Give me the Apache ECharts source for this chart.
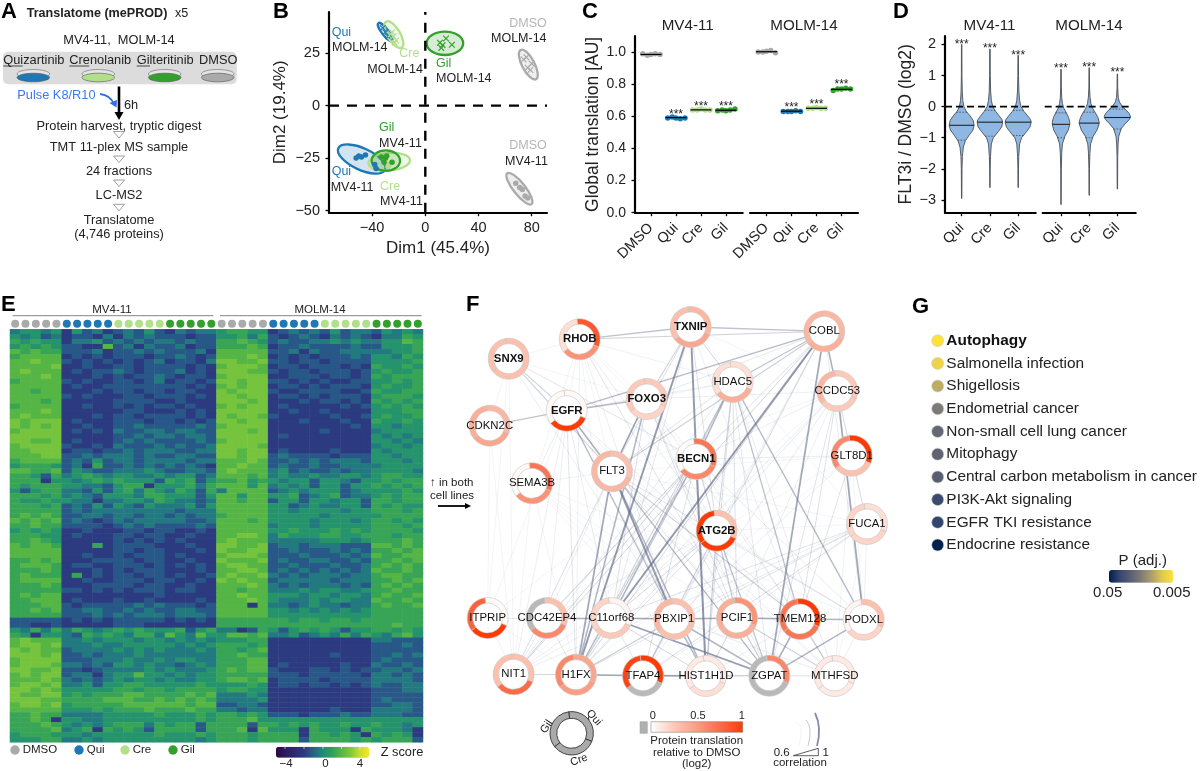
<!DOCTYPE html>
<html><head><meta charset="utf-8">
<style>html,body{margin:0;padding:0;background:#fff}#c{width:1200px;height:771px}</style>
<script src="https://cdn.jsdelivr.net/npm/echarts@6/dist/echarts.min.js"></script>
</head><body><div id="c"></div>
<script>
const FONT='"Liberation Sans",Arial,sans-serif';
const COL={DMSO:'#aaaaaa',Qui:'#1f78b4',Cre:'#b2df8a',Gil:'#33a02c'};
const MINUS=s=>String(s).replace('-','\u2212');

// ---------- B: PCA ----------
const pcaPoints=[
 {g:'Qui',sym:'x',pts:[[-30,35],[-32,37],[-28,33]]},
 {g:'Cre',sym:'x',pts:[[-24,33],[-22,31],[-25,35],[-23,30],[-26,34]]},
 {g:'Gil',sym:'x',pts:[[11,30],[15.6,32],[20,29],[12,27.5],[13,28.8]]},
 {g:'DMSO',sym:'x',pts:[[74,22],[77,18],[79,17],[76,23],[80,20]]},
 {g:'DMSO',sym:'o',pts:[[68,-37],[71,-39],[75,-43],[73,-40],[77,-44]]},
 {g:'Qui',sym:'o',pts:[[-52,-25],[-50,-24],[-48,-24.5],[-45,-23.5],[-38,-28],[-37,-30]]},
 {g:'Cre',sym:'o',pts:[[-27,-28],[-25,-27],[-30,-26],[-28,-29]]},
 {g:'Gil',sym:'o',pts:[[-33,-24.5],[-30,-25],[-25,-27],[-31,-27],[-29,-24]]}
];
// group, major-axis ends (x1,y1,x2,y2) and minor/major ratio
const pcaEllipses=[
 ['Qui',-35.3,39.3,-25.2,31,.3],
 ['Cre',-29.5,40,-17.8,27.6,.42],
 ['Gil',1,29.7,28.5,29.7,.64],
 ['DMSO',71.7,26.5,83.2,12.6,.38],
 ['DMSO',61.6,-32.2,79.9,-46.9,.3],
 ['Qui',-65.4,-20.3,-30.3,-30.6,.42],
 ['Cre',-42.8,-27.5,-11.5,-25.9,.42],
 ['Gil',-40.3,-26.2,-19,-26.2,.72]
];
const pcaXTicks=[-40,0,40,80], pcaYTicks=[-50,-25,0,25];

// ---------- C: global translation ----------
const transCats=['DMSO','Qui','Cre','Gil'];
const transMV4=[[.99,.98,.985,.99,.985],[.59,.595,.59,.585,.59],[.64,.64,.645,.64,.64],[.635,.64,.635,.64,.645]];
const transMOLM=[[1,1,1.005,1.01,.995],[.63,.63,.63,.635,.63],[.65,.65,.655,.65,.65],[.76,.77,.77,.775,.77]];
const transMedMV4=[.985,.592,.64,.638], transMedMOLM=[1.002,.632,.65,.768];
const transStarsMV4=[null,.625,.672,.672], transStarsMOLM=[null,.666,.685,.81];
const transJitter=[-.33,-.15,0,.17,.36];

// ---------- D: violins (y, half-width) ----------
const vMV4Qui=[[2,.008],[1,.01],[.5,.02],[.2,.04],[0,.08],[-.15,.16],[-.3,.3],[-.45,.41],[-.6,.44],[-.75,.4],[-.9,.28],[-1.1,.13],[-1.3,.06],[-1.6,.025],[-2,.012],[-2.95,.006]];
const vMV4Cre=[[1.85,.008],[1,.012],[.5,.025],[.2,.05],[0,.1],[-.15,.2],[-.3,.33],[-.42,.43],[-.5,.45],[-.65,.42],[-.8,.3],[-1,.12],[-1.2,.05],[-1.6,.02],[-2,.01],[-2.6,.006]];
const vMV4Gil=[[1.65,.008],[1,.012],[.5,.025],[.2,.05],[0,.1],[-.15,.2],[-.3,.34],[-.42,.44],[-.5,.46],[-.65,.42],[-.8,.3],[-1,.12],[-1.2,.05],[-1.6,.02],[-2,.01],[-2.6,.006]];
const vMOLMQui=[[1.2,.008],[.6,.012],[.3,.025],[.1,.05],[-.05,.1],[-.2,.19],[-.35,.27],[-.5,.31],[-.57,.31],[-.75,.26],[-.95,.14],[-1.2,.05],[-1.5,.025],[-2,.01],[-3.15,.006]];
const vMOLMCre=[[1.25,.008],[.6,.012],[.3,.03],[.1,.06],[-.05,.12],[-.2,.22],[-.35,.31],[-.5,.355],[-.55,.355],[-.75,.28],[-.95,.14],[-1.2,.05],[-1.5,.025],[-2,.01],[-2.85,.006]];
const vMOLMGil=[[1.05,.008],[.6,.012],[.3,.03],[.15,.07],[0,.18],[-.1,.3],[-.22,.42],[-.33,.47],[-.42,.42],[-.55,.28],[-.7,.14],[-.95,.05],[-1.2,.025],[-1.6,.012],[-2.65,.006]];
const vCats=['Qui','Cre','Gil'];
// median, upper, lower dotted line
const vStatsMV4=[[-.6,-.18,-1.08],[-.5,-.12,-.95],[-.5,-.12,-.93]];
const vStatsMOLM=[[-.57,-.2,-1],[-.53,-.18,-1],[-.35,-.08,-.72]];
const vStarsMV4=[2.05,1.93,1.7], vStarsMOLM=[1.27,1.32,1.14];

// ---------- E: heatmap, one row per band, level digits ----------
const heatRows=[
"45545 25342 34353 24344 56655 23434 35344 35454",
"54534 23324 24343 33233 55646 32343 24343 24465",
"65655 24453 43434 43433 66765 34334 45454 45576",
"56565 33227 34243 34233 66676 23343 33343 35556",
"76766 33342 33434 33342 77777 33424 33444 44556",
"67777 23232 33323 34323 77787 23232 33343 55465",
"77877 32323 23234 23324 88778 33233 23333 55556",
"77778 22322 33233 33232 78887 23323 33232 65565",
"78777 23233 43233 34232 88877 32332 33323 56556",
"77787 22232 32334 32332 78888 22333 23323 65666",
"67777 32322 33234 23323 88788 33232 32233 55656",
"77777 23223 33333 33232 78788 23323 23332 56556",
"77677 22232 33233 23322 87888 32233 33223 65566",
"77777 32322 23323 33232 88788 23323 23332 56665",
"77767 22222 33332 23222 88878 22232 33232 65656",
"67777 22322 32323 32322 78788 23222 22323 56565",
"77787 22222 23322 23232 88888 22322 32222 55566",
"78777 22232 33233 33232 87887 32222 23223 56556",
"87888 23222 33323 32323 88788 22232 22322 65565",
"87878 22322 33433 33343 78888 22222 22232 55455",
"78888 23232 43344 34433 88878 22222 32222 45555",
"88888 22222 33434 43443 88888 23222 22222 54545",
"88778 23222 34343 33343 78888 22222 22222 55454",
"78888 32232 43334 34334 88887 22222 22222 45545",
"77888 23323 34344 43344 88788 23222 23222 54555",
"77788 33434 44343 34433 88788 34333 32333 55455",
"67777 34353 44344 44344 77787 33434 34443 55545",
"56665 34263 34343 43432 77877 34334 33444 45555",
"77667 35433 44454 33443 78777 45343 34344 55554",
"66536 45654 55445 45534 77767 45445 44554 56655",
"66625 54565 65553 65635 66756 54553 55435 56566",
"65666 55443 56625 55646 77757 45453 55355 65656",
"53566 44353 56465 46536 47777 34545 55345 55565",
"66656 45435 55466 55535 77577 55634 56344 56566",
"65565 54424 45546 54434 77677 35535 54553 66566",
"66656 34353 54354 44535 77777 55345 44553 65655",
"66666 34344 44444 43444 77777 55455 55455 66656",
"67676 33443 44344 34344 67777 55555 45555 56666",
"76767 34323 43444 44334 77767 55554 55545 66565",
"66766 33332 34343 33343 77777 45554 55555 66656",
"56565 22322 23323 32232 77777 55655 56565 66665",
"66655 23222 33233 22322 77887 46555 66556 66566",
"66765 22222 32323 23222 78777 44444 55545 66676",
"76776 22262 33332 22322 88778 34434 44333 77676",
"77777 22222 33233 22232 87788 33433 34343 66767",
"77777 22322 32333 23222 78887 33343 33434 76677",
"66767 22233 33233 22322 87778 34334 43343 66767",
"67776 23322 33323 23232 78877 33433 34334 67676",
"66676 22232 32333 22232 77887 34343 43434 76676",
"67666 26232 33233 23223 78778 43434 44344 67766",
"67777 22322 33323 32232 87877 34444 43444 66767",
"66676 22233 33233 22322 77787 43434 44343 67676",
"66666 33232 32333 23322 77677 44454 55445 66766",
"67677 22222 22223 22222 77877 55545 54554 67667",
"66777 23222 32232 22232 77787 54445 45544 76676",
"66677 32333 33434 33323 77727 44345 44344 67667",
"66767 33443 34343 34433 77777 55454 54545 66666",
"66666 33343 43444 34443 77777 55555 55555 66666",
"33333 23232 33333 23232 66666 66566 56656 66666",
"33223 22222 33322 22222 66666 66666 66666 66766",
"54646 46545 65655 56356 44236 53565 65355 66565",
"65255 43656 54664 75475 57767 44534 54646 54675",
"78777 44545 55455 45454 55566 22222 22222 44333",
"78878 44454 45555 54545 66656 22222 22222 33343",
"87877 34444 54545 44454 66567 22222 22222 33333",
"88878 33434 44544 44444 66766 22222 23222 33434",
"78888 33344 45445 45544 66677 22222 22222 34333",
"78887 44343 55454 43454 66677 23222 22322 43343",
"88778 33234 44454 54445 67677 32223 32323 34434",
"78788 34424 55755 45455 66666 33323 33332 44343",
"77787 43434 54554 54455 67767 23333 23333 44443",
"78878 44535 56655 55565 55565 23323 32323 43344",
"88787 55555 66566 56666 56655 22222 22222 33344",
"87788 56566 67766 66767 44454 22222 22222 33333",
"88877 66667 77667 67676 44445 22222 22222 34333",
"78878 56666 67777 77677 33443 22222 22222 33443",
"77777 55565 66676 66766 44344 22222 23222 44443",
"66766 44445 55556 55565 66565 33323 33433 44433",
"66762 55445 55555 55565 66675 55555 55555 55555",
"66676 54545 66646 56636 66636 65656 55655 65545",
"66667 45626 56536 66636 66727 55526 55526 55542",
"56665 55455 55556 55565 66656 66626 65652 65652",
"55566 44545 55555 55545 66656 66636 66656 56663"
];
const heatLevelZ=[-4,-3.2,-2,-1.2,-.4,.4,1.2,2,2.8,3.6];
const heatPalette=['#2a0845','#2e1a5e','#2c2a72','#2c3a80','#27608a','#1f8a78','#2fa05a','#55b545','#7ec83b','#c8dc2c','#fbe71e'];
const heatGroups=['DMSO','Qui','Cre','Gil','DMSO','Qui','Cre','Gil'];

// ---------- F: network ----------
const netNodes=[ // name, layout x, layout y, Qui, Cre, Gil, bold
 ['SNX9',78.7,68.7,.3,.3,.3,1],['RHOB',149.7,49.3,.85,.55,.15,1],['TXNIP',260.7,37,.35,.45,.3,1],
 ['COBL',394.3,41.3,.35,.4,.35,0],['HDAC5',302.7,92,.15,.4,.15,0],['CCDC53',407.3,101,.25,.25,.35,0],
 ['FOXO3',216.7,109,.25,.2,.25,1],['EGFR',136.7,120.7,.03,1,.03,1],['CDKN2C',59.7,135.7,.35,.45,.4,0],
 ['BECN1',266.3,169,.7,.6,.02,1],['GLT8D1',421.7,165.7,1,.3,.6,0],['FLT3',182,181.3,.3,.35,.35,0],
 ['SEMA3B',102,193.3,.7,.55,.03,0],['ATG2B',286.7,240.7,.3,1,1,1],['FUCA1',437,234,.15,.2,.2,0],
 ['ITPRIP',57.7,328,.02,1,.8,0],['CDC42EP4',117,328,.3,.6,null,0],['C11orf68',181.3,328,.05,.25,.2,0],
 ['PBXIP1',244.3,329,.3,.3,.35,0],['PCIF1',307,328,.55,.4,.4,0],['TMEM128',370,329,1,.7,.7,0],
 ['PODXL',433.7,329.7,.3,.2,.05,0],['NIT1',83.7,384.3,.3,.75,.3,0],['H1FX',146,384.7,.45,.5,.6,0],
 ['TFAP4',213,385.7,1,null,.95,0],['HIST1H1D',276,386,.1,.15,.1,0],['ZGPAT',339.3,385.7,.6,null,null,0],
 ['MTHFSD',404.7,386,.1,.1,.1,0]
];
const netEdges=[
 ['TXNIP','BECN1',.9],['TXNIP','H1FX',.9],['FOXO3','H1FX',.8],['COBL','C11orf68',.9],['COBL','ZGPAT',.85],['CCDC53','PODXL',.85],
 ['FLT3','PBXIP1',.9],['FLT3','H1FX',.85],['BECN1','HIST1H1D',.92],['BECN1','ATG2B',.7],['EGFR','FLT3',.8],['EGFR','PBXIP1',.75],
 ['EGFR','PCIF1',.6],['SNX9','FLT3',.7],['SNX9','EGFR',.7],['SNX9','BECN1',.65],['RHOB','FLT3',.6],['RHOB','EGFR',.6],['RHOB','BECN1',.6],
 ['RHOB','TXNIP',.75],['RHOB','COBL',.7],['TXNIP','COBL',.75],['EGFR','FOXO3',.78],['EGFR','COBL',.78],['CDKN2C','EGFR',.75],['EGFR','HDAC5',.62],
 ['FOXO3','FLT3',.85],['FOXO3','TXNIP',.7],['TXNIP','HDAC5',.68],['HDAC5','BECN1',.8],['COBL','HDAC5',.75],['HDAC5','C11orf68',.7],['HDAC5','FLT3',.65],
 ['HDAC5','TMEM128',.75],['HDAC5','PODXL',.78],['CCDC53','FOXO3',.62],['GLT8D1','BECN1',.62],['GLT8D1','PODXL',.6],['FUCA1','PODXL',.62],
 ['FUCA1','C11orf68',.65],['FUCA1','H1FX',.65],['FUCA1','TFAP4',.66],['COBL','FLT3',.7],['COBL','NIT1',.68],['HDAC5','H1FX',.7],['BECN1','CDC42EP4',.7],
 ['BECN1','C11orf68',.75],['BECN1','H1FX',.72],['BECN1','NIT1',.68],['ATG2B','H1FX',.66],['ATG2B','C11orf68',.68],['ATG2B','PCIF1',.72],['ATG2B','ZGPAT',.75],
 ['ATG2B','TFAP4',.7],['ATG2B','NIT1',.62],['EGFR','CDC42EP4',.62],['EGFR','ITPRIP',.6],['SEMA3B','NIT1',.6],['SEMA3B','FLT3',.61],['SEMA3B','PBXIP1',.6],
 ['SEMA3B','EGFR',.62],['C11orf68','ZGPAT',.88],['PBXIP1','ZGPAT',.8],['PBXIP1','HIST1H1D',.78],['FLT3','HIST1H1D',.8],['FLT3','ZGPAT',.75],['FLT3','TMEM128',.7],
 ['FLT3','PODXL',.65],['TMEM128','ZGPAT',.82],['PODXL','ZGPAT',.8],['TMEM128','MTHFSD',.72],['PCIF1','MTHFSD',.7],['PODXL','MTHFSD',.62],['PCIF1','ZGPAT',.7],
 ['PCIF1','HIST1H1D',.68],['CDC42EP4','C11orf68',.78],['C11orf68','PBXIP1',.8],['PBXIP1','PCIF1',.8],['PCIF1','TMEM128',.85],['TMEM128','PODXL',.8],
 ['ITPRIP','CDC42EP4',.6],['NIT1','H1FX',.66],['H1FX','TFAP4',.8],['TFAP4','HIST1H1D',.85],['HIST1H1D','ZGPAT',.72],['ZGPAT','MTHFSD',.66],['H1FX','PBXIP1',.72],
 ['H1FX','C11orf68',.72],['H1FX','CDC42EP4',.65],['NIT1','C11orf68',.62],['NIT1','CDC42EP4',.63],['ITPRIP','NIT1',.61],['TFAP4','C11orf68',.65],['TFAP4','PBXIP1',.65],
 ['COBL','FUCA1',.6],['COBL','PODXL',.63],['GLT8D1','TMEM128',.65],['CCDC53','TMEM128',.66],['CCDC53','ZGPAT',.65],['CCDC53','NIT1',.6],['CCDC53','H1FX',.64],
 ['CCDC53','TFAP4',.63],['TXNIP','ATG2B',.66],['FOXO3','BECN1',.62],['FOXO3','PCIF1',.66],['FOXO3','ATG2B',.62],['SNX9','PBXIP1',.62],['SNX9','ITPRIP',.6],
 ['CDKN2C','ITPRIP',.6],['CDKN2C','NIT1',.6],['SNX9','NIT1',.6],['EGFR','TMEM128',.63],['EGFR','HIST1H1D',.65],['EGFR','H1FX',.65],['EGFR','ZGPAT',.64],
 ['RHOB','C11orf68',.6],['RHOB','PCIF1',.62],['GLT8D1','FLT3',.6],['FUCA1','FLT3',.6],['SEMA3B','PODXL',.6],['COBL','CCDC53',.8],['GLT8D1','FUCA1',.6],
 ['CCDC53','FUCA1',.62],['GLT8D1','COBL',.6],['FOXO3','RHOB',.6],['FOXO3','HDAC5',.6],
 ['SNX9','RHOB',.6],['SNX9','FOXO3',.6],['SNX9','CDKN2C',.6],['RHOB','HDAC5',.61],['RHOB','SEMA3B',.6],['RHOB','ATG2B',.63],['RHOB','PBXIP1',.62],['RHOB','H1FX',.61],
 ['RHOB','ZGPAT',.6],['TXNIP','FLT3',.66],['TXNIP','C11orf68',.64],['TXNIP','TMEM128',.62],['TXNIP','FUCA1',.6],['TXNIP','CCDC53',.6],['COBL','FOXO3',.64],['COBL','BECN1',.66],
 ['COBL','ATG2B',.62],['COBL','TFAP4',.64],['COBL','H1FX',.68],['COBL','PBXIP1',.63],['HDAC5','ATG2B',.68],['HDAC5','NIT1',.63],['HDAC5','ZGPAT',.64],['HDAC5','HIST1H1D',.66],
 ['HDAC5','MTHFSD',.63],['HDAC5','PCIF1',.66],['CCDC53','BECN1',.62],['CCDC53','FLT3',.6],['CCDC53','PCIF1',.62],['CCDC53','C11orf68',.63],['GLT8D1','ATG2B',.6],['GLT8D1','PBXIP1',.62],
 ['GLT8D1','H1FX',.6],['GLT8D1','MTHFSD',.61],['FUCA1','PBXIP1',.63],['FUCA1','ATG2B',.6],['FUCA1','NIT1',.62],['FUCA1','MTHFSD',.6],['FUCA1','PCIF1',.62],['BECN1','PODXL',.63],
 ['BECN1','MTHFSD',.62],['BECN1','TFAP4',.66],['BECN1','ITPRIP',.6],['ATG2B','PODXL',.62],['ATG2B','CDC42EP4',.62],['ATG2B','HIST1H1D',.72],['FLT3','CDC42EP4',.62],['FLT3','PCIF1',.66],
 ['FLT3','NIT1',.62],['FLT3','MTHFSD',.62],['SEMA3B','HIST1H1D',.6],['SEMA3B','PCIF1',.6],['SEMA3B','H1FX',.6],['SEMA3B','ZGPAT',.6],['EGFR','C11orf68',.63],['EGFR','NIT1',.62],
 ['EGFR','MTHFSD',.62],['FOXO3','NIT1',.62],['FOXO3','C11orf68',.66],['FOXO3','TMEM128',.63],['FOXO3','ZGPAT',.63],['ITPRIP','H1FX',.6],['CDC42EP4','PBXIP1',.63],['C11orf68','ITPRIP',.6],
 ['C11orf68','PCIF1',.64],['C11orf68','HIST1H1D',.68],['TFAP4','PCIF1',.62],['HIST1H1D','TMEM128',.62],['PBXIP1','MTHFSD',.63],['H1FX','ZGPAT',.62],['H1FX','HIST1H1D',.63],['NIT1','TFAP4',.6]
];
const ringStops=['#ffffff','#fdc9b8','#fb9d83','#f96c48','#ff3a05'];

// ---------- G: enrichment ----------
const pathways=['Autophagy','Salmonella infection','Shigellosis','Endometrial cancer','Non-small cell lung cancer','Mitophagy','Central carbon metabolism in cancer','PI3K-Akt signaling','EGFR TKI resistance','Endocrine resistance'];
const pathwayScore=[2.3,2.2,2.02,1.8,1.68,1.66,1.63,1.5,1.46,1.3]; // -log10 P (adj.)
const pathwayPalette=['#00204d','#35456f','#5a5f72','#7c7b78','#ad9f6c','#e0c94e','#ffe13c'];

// ---------- helpers ----------
const series=[], gfx=[];
function T(text,x,y,o={}){gfx.push({type:'text',x,y,rotation:o.rot||0,z:100,silent:true,style:{text,fill:o.color||'#222',
  fontFamily:FONT,fontSize:o.size||12.8,fontWeight:o.bold?'bold':'normal',align:o.align||'left',verticalAlign:'middle'}});}
function axisBase(o){return Object.assign({splitLine:{show:false},scale:false},o);}
const LINE={show:true,onZero:false,lineStyle:{color:'#000',width:2.2}};
const TICK=(vals,len=3.5)=>({show:true,length:len,lineStyle:{color:'#000',width:1.3},customValues:vals});
const LAB=(vals,fmt,extra={})=>Object.assign({show:true,customValues:vals,color:'#222',fontFamily:FONT,fontSize:14.5,margin:8,formatter:fmt,hideOverlap:false},extra);

const grids=[
 {left:329,top:12,width:218,height:200.7},      //0 B
 {left:635,top:36,width:107.7,height:176.7},    //1 C
 {left:750,top:36,width:108,height:176.7},      //2 C
 {left:945,top:36,width:90.7,height:176.7},     //3 D
 {left:1042.7,top:36,width:93,height:176.7},    //4 D
 {left:10,top:329.3,width:413,height:413},      //5 E
 {left:10,top:318.7,width:413,height:10},       //6 E dots
 {left:430,top:290,width:480,height:480},       //7 F
 {left:930,top:329.35,width:18,height:227}      //8 G
];
const xAxes=[],yAxes=[];
// B
xAxes.push(axisBase({type:'value',gridIndex:0,min:-72.4,max:91.5,axisLine:LINE,axisTick:TICK(pcaXTicks),axisLabel:LAB(pcaXTicks,MINUS),
 name:'Dim1 (45.4%)',nameLocation:'middle',nameGap:27,nameTextStyle:{fontFamily:FONT,fontSize:17,color:'#222'}}));
yAxes.push(axisBase({type:'value',gridIndex:0,min:-51,max:44.6,axisLine:LINE,axisTick:TICK(pcaYTicks),axisLabel:LAB(pcaYTicks,MINUS,{margin:9}),
 name:'Dim2 (19.4%)',nameLocation:'middle',nameGap:40,nameTextStyle:{fontFamily:FONT,fontSize:17,color:'#222'}}));
// C
const catFmt=list=>v=>list[Math.round(v)-1];
const ROT={rotate:45,margin:13};
xAxes.push(axisBase({type:'value',gridIndex:1,min:.36,max:4.67,axisLine:LINE,axisTick:TICK([1,2,3,4]),axisLabel:LAB([1,2,3,4],catFmt(transCats),ROT)}));
const cTicks=[0,.2,.4,.6,.8,1];
yAxes.push(axisBase({type:'value',gridIndex:1,min:0,max:1.1,axisLine:LINE,axisTick:TICK(cTicks),axisLabel:LAB(cTicks,v=>v.toFixed(1),{margin:9,fontSize:14}),
 name:'Global translation [AU]',nameLocation:'middle',nameGap:33,nameTextStyle:{fontFamily:FONT,fontSize:17.5,color:'#222'}}));
xAxes.push(axisBase({type:'value',gridIndex:2,min:.34,max:4.66,axisLine:LINE,axisTick:TICK([1,2,3,4]),axisLabel:LAB([1,2,3,4],catFmt(transCats),ROT)}));
yAxes.push(axisBase({type:'value',gridIndex:2,min:0,max:1.1,show:false}));
// D
const dTicks=[-3,-2,-1,0,1,2];
xAxes.push(axisBase({type:'value',gridIndex:3,min:.41,max:3.62,axisLine:LINE,axisTick:TICK([1,2,3]),axisLabel:LAB([1,2,3],catFmt(vCats),ROT)}));
yAxes.push(axisBase({type:'value',gridIndex:3,min:-3.41,max:2.27,axisLine:LINE,axisTick:TICK(dTicks),axisLabel:LAB(dTicks,MINUS,{margin:9}),
 name:'FLT3i / DMSO (log2)',nameLocation:'middle',nameGap:28,nameTextStyle:{fontFamily:FONT,fontSize:17.5,color:'#222'}}));
xAxes.push(axisBase({type:'value',gridIndex:4,min:.35,max:3.65,axisLine:LINE,axisTick:TICK([1,2,3]),axisLabel:LAB([1,2,3],catFmt(vCats),ROT)}));
yAxes.push(axisBase({type:'value',gridIndex:4,min:-3.41,max:2.27,show:false}));
// E
const cols=Array.from({length:40},(_,i)=>i);
const rowIdx=heatRows.map((_,i)=>i);
xAxes.push({type:'category',gridIndex:5,data:cols,show:false});
yAxes.push({type:'category',gridIndex:5,data:rowIdx,inverse:true,show:false});
xAxes.push({type:'category',gridIndex:6,data:cols,show:false});
yAxes.push({type:'value',gridIndex:6,min:-1,max:1,show:false});
// F
xAxes.push({type:'value',gridIndex:7,min:0,max:480,show:false});
yAxes.push({type:'value',gridIndex:7,min:0,max:480,inverse:true,show:false});
// G
xAxes.push({type:'value',gridIndex:8,min:0,max:1,show:false});
yAxes.push({type:'category',gridIndex:8,data:pathways,inverse:true,position:'right',axisLine:{show:false},axisTick:{show:false},
 axisLabel:{margin:1,color:'#222',fontFamily:FONT,fontSize:15.4,formatter:v=>v==='Autophagy'?'{b|'+v+'}':v,rich:{b:{fontWeight:'bold',fontFamily:FONT,fontSize:15.4,color:'#111'}}}});

const AX=i=>({xAxisIndex:i,yAxisIndex:i});
const DASH=(i,a,b,w,d)=>series.push(Object.assign({type:'line',data:[a,b],showSymbol:false,silent:true,z:3,lineStyle:{color:'#000',width:w,type:d}},AX(i)));

// ---------- B series ----------
series.push(Object.assign({type:'custom',z:2,silent:true,data:pcaEllipses.map(e=>[(e[1]+e[3])/2,(e[2]+e[4])/2]),
 renderItem:(p,api)=>{const e=pcaEllipses[p.dataIndex],a=api.coord([e[1],e[2]]),b=api.coord([e[3],e[4]]);
  const dx=b[0]-a[0],dy=b[1]-a[1],rx=Math.hypot(dx,dy)/2;
  return {type:'ellipse',x:(a[0]+b[0])/2,y:(a[1]+b[1])/2,rotation:-Math.atan2(dy,dx),shape:{cx:0,cy:0,rx,ry:rx*e[5]},
   style:{fill:echarts.color.modifyAlpha(COL[e[0]],.2),stroke:COL[e[0]],lineWidth:2.3}};}},AX(0)));
DASH(0,[0,-51],[0,44.6],2.4,[10,8]);
DASH(0,[-72.4,0],[91.5,0],2.4,[10,8]);
const CROSS='path://M1,0 L4,3 L7,0 L8,1 L5,4 L8,7 L7,8 L4,5 L1,8 L0,7 L3,4 L0,1 Z';
pcaPoints.forEach(s=>series.push(Object.assign({type:'scatter',z:4,silent:true,data:s.pts,symbol:s.sym==='x'?CROSS:'circle',
 symbolSize:s.sym==='x'?6.5:5.5,itemStyle:{color:COL[s.g],opacity:1}},AX(0))));

// ---------- C series ----------
function transPanel(gi,vals,meds,stars){
 vals.forEach((arr,i)=>series.push(Object.assign({type:'scatter',z:3,silent:true,symbolSize:5.5,itemStyle:{color:COL[transCats[i]],opacity:1},
  data:arr.map((v,j)=>[i+1+transJitter[j],v])},AX(gi))));
 series.push(Object.assign({type:'custom',z:4,silent:true,data:meds.map((m,i)=>[i+1,m]),
  renderItem:(p,api)=>{const x=api.value(0),y=api.value(1),a=api.coord([x-.42,y]),b=api.coord([x+.42,y]);
   return {type:'line',shape:{x1:a[0],y1:a[1],x2:b[0],y2:b[1]},style:{stroke:'#000',lineWidth:1.2}};}},AX(gi)));
 starSeries(gi,stars.map((s,i)=>s==null?null:[i+1,s]).filter(Boolean));
}
function starSeries(gi,data){
 series.push(Object.assign({type:'scatter',z:5,silent:true,symbolSize:1,itemStyle:{color:'rgba(0,0,0,0)',opacity:1},data,
  label:{show:true,position:'inside',formatter:'***',color:'#222',fontFamily:FONT,fontSize:12,offset:[0,2]}},AX(gi)));
}
transPanel(1,transMV4,transMedMV4,transStarsMV4);
transPanel(2,transMOLM,transMedMOLM,transStarsMOLM);

// ---------- D series ----------
function violinPanel(gi,profiles,stats,stars){
 series.push(Object.assign({type:'custom',z:3,silent:true,data:stats.map((s,i)=>[i+1,s[0]]),
  renderItem:(p,api)=>{const i=p.dataIndex,pr=profiles[i],s=stats[i],x=i+1;
   const R=pr.map(r=>api.coord([x+r[1],r[0]])),L=pr.slice().reverse().map(r=>api.coord([x-r[1],r[0]]));
   const wAt=y=>{for(let k=1;k<pr.length;k++){if(y<=pr[k-1][0]&&y>=pr[k][0]){const t=(pr[k-1][0]-y)/(pr[k-1][0]-pr[k][0]);return pr[k-1][1]+t*(pr[k][1]-pr[k-1][1]);}}return 0;};
   const seg=(y,st)=>{const w=wAt(y),a=api.coord([x-w,y]),b=api.coord([x+w,y]);return {type:'line',shape:{x1:a[0],y1:a[1],x2:b[0],y2:b[1]},style:st};};
   return {type:'group',children:[
    {type:'polygon',shape:{points:R.concat(L)},style:{fill:'#8fb7e4',stroke:'#4a4f57',lineWidth:.9}},
    seg(s[0],{stroke:'#222',lineWidth:1.1}),
    seg(s[1],{stroke:'#333',lineWidth:.7,lineDash:[1.5,1.5]}),
    seg(s[2],{stroke:'#333',lineWidth:.7,lineDash:[1.5,1.5]})]};}},AX(gi)));
 starSeries(gi,stars.map((s,i)=>[i+1,s]));
}
violinPanel(3,[vMV4Qui,vMV4Cre,vMV4Gil],vStatsMV4,vStarsMV4);
violinPanel(4,[vMOLMQui,vMOLMCre,vMOLMGil],vStatsMOLM,vStarsMOLM);
DASH(3,[.41,0],[3.45,0],1.6,[7,4]);
DASH(4,[.42,0],[3.5,0],1.6,[7,4]);

// ---------- E series ----------
const heatData=[];
heatRows.forEach((row,r)=>{row.replace(/ /g,'').split('').forEach((d,c)=>heatData.push([c,r,heatLevelZ[+d]]));});
const heatIndex=series.length;
series.push(Object.assign({type:'heatmap',data:heatData,silent:true,progressive:0,itemStyle:{borderWidth:0}},AX(5)));
['DMSO','Qui','Cre','Gil'].forEach(g=>{
 const d=[];heatGroups.forEach((h,i)=>{if(h===g)for(let k=0;k<5;k++)d.push([i*5+k,0]);});
 series.push(Object.assign({type:'scatter',silent:true,symbolSize:8,itemStyle:{color:COL[g],opacity:1},data:d},AX(6)));
});

// ---------- F series ----------
const lerpRing=v=>echarts.color.lerp(v,ringStops);
series.push(Object.assign({type:'graph',coordinateSystem:'cartesian2d',silent:true,z:1,symbolSize:1,
 itemStyle:{opacity:0},label:{show:false},
 data:netNodes.map(n=>({name:n[0],value:[n[1],n[2]]})),
 links:netEdges.map(e=>({source:e[0],target:e[1],lineStyle:{color:'#5b6684',width:.6+(e[2]-.6)*4.5,opacity:.13+(e[2]-.6)*1.75}}))
},AX(7)));
const RAD=Math.PI/180, ringAng=[[-98,22],[22,142],[142,262]];
series.push(Object.assign({type:'custom',z:5,silent:true,data:netNodes.map(n=>[n[1],n[2]]),
 renderItem:(p,api)=>{const n=netNodes[p.dataIndex],c=api.coord([n[1],n[2]]),kids=[
   {type:'circle',shape:{cx:c[0],cy:c[1],r:20.5},style:{fill:'#fff'}}];
  [3,4,5].forEach((k,i)=>{kids.push({type:'sector',shape:{cx:c[0],cy:c[1],r:20.5,r0:15,startAngle:ringAng[i][0]*RAD,endAngle:ringAng[i][1]*RAD,clockwise:true},
    style:{fill:n[k]==null?'#b9b9b9':lerpRing(n[k]),stroke:'#c4c4c4',lineWidth:.6}});});
  kids.push({type:'text',x:c[0],y:c[1],style:{text:n[0],align:'center',verticalAlign:'middle',fill:'#111',fontFamily:FONT,fontSize:11.4,fontWeight:n[6]?'bold':'normal'}});
  return {type:'group',children:kids};}},AX(7)));

// ---------- G series ----------
const pathIndex=series.length;
series.push(Object.assign({type:'scatter',silent:true,symbolSize:12,itemStyle:{borderColor:'#ccc',borderWidth:.6,opacity:1},
 data:pathways.map((p,i)=>[.5,p,pathwayScore[i]]),encode:{x:0,y:1}},AX(8)));

// ---------- text and schematic ----------
[['A',1,12],['B',273,12],['C',582,12],['D',893,12],['E',1,305],['F',466,305],['G',912,307]].forEach(l=>T(l[0],l[1],l[2],{size:22,bold:true,color:'#000'}));
// A
T('Translatome (mePROD)',26.7,14,{size:12.6,bold:true});T('x5',175,14,{size:12.6});
T('MV4-11,  MOLM-14',119,40,{align:'center'});
gfx.push({type:'rect',z:1,shape:{x:3,y:51.7,width:233.7,height:32.6,r:5},style:{fill:'#dcdcdc'},silent:true});
[['Quizartinib',3.3,22.7],['Crenolanib',69.3,89.3],['Gilteritinib',136.7,150],['DMSO',199,null]].forEach(d=>{
 T(d[0],d[1],60.7);
 if(d[2])gfx.push({type:'line',z:100,silent:true,shape:{x1:d[1],y1:66,x2:d[2],y2:66},style:{stroke:'#222',lineWidth:.8}});});
[[33.3,'Qui'],[98.3,'Cre'],[164.7,'Gil'],[217.7,'DMSO']].forEach(d=>{
 gfx.push({type:'ellipse',z:2,silent:true,shape:{cx:d[0],cy:74,rx:16.3,ry:4.5},style:{fill:'#e4e4e4',stroke:'#777',lineWidth:.7}});
 gfx.push({type:'ellipse',z:3,silent:true,shape:{cx:d[0],cy:77.5,rx:16.3,ry:4.3},style:{fill:COL[d[1]],stroke:'#555',lineWidth:.6}});
});
gfx.push({type:'line',z:100,silent:true,shape:{x1:119,y1:86.5,x2:119,y2:114},style:{stroke:'#000',lineWidth:2.6}});
gfx.push({type:'polygon',z:100,silent:true,shape:{points:[[114.5,112],[123.5,112],[119,120]]},style:{fill:'#000'}});
T('Pulse K8/R10',17.3,95.7,{color:'#3b7bea'});T('6h',124,105.7);
gfx.push({type:'bezierCurve',z:100,silent:true,shape:{x1:100,y1:94,x2:114,y2:104,cpx1:108,cpy1:95,cpx2:112,cpy2:99},style:{stroke:'#2f6fe0',lineWidth:1.8,fill:'none'}});
gfx.push({type:'polygon',z:100,silent:true,shape:{points:[[109.5,103],[117,100],[116.5,107.5]]},style:{fill:'#2f6fe0'}});
[['Protein harvest, tryptic digest',126],['TMT 11-plex MS sample',147.7],['24 fractions',171.7],['LC-MS2',195.7],['Translatome',220],['(4,746 proteins)',234]].forEach(d=>T(d[0],119,d[1],{align:'center'}));
[134.5,159,183,207.3].forEach(y=>gfx.push({type:'polygon',z:100,silent:true,shape:{points:[[113.5,y-3],[124.5,y-3],[119,y+3.5]]},style:{fill:'#fff',stroke:'#777',lineWidth:.7}}));
// B labels
[['Qui',331.7,32.3,'Qui'],['MOLM-14',332,47.7],['Cre',399.3,53.3,'Cre'],['MOLM-14',367.3,69.3],['Gil',436,63.3,'Gil'],['MOLM-14',436,79],
 ['DMSO',509.3,23.3,'D'],['MOLM-14',491,38.3],['Gil',379,127.7,'Gil'],['MV4-11',379,143.3],['Qui',331.7,172,'Qui'],['MV4-11',330.7,187.3],
 ['Cre',380,186.7,'Cre'],['MV4-11',380,201.7],['DMSO',509.3,146,'D'],['MV4-11',505,161.7]].forEach(d=>
  T(d[0],d[1],d[2],{size:12.5,color:d[3]?(d[3]==='D'?'#b5b5b5':COL[d[3]]):'#222'}));
// C / D titles
T('MV4-11',687.7,26,{size:15.2,align:'center'});T('MOLM-14',804,26,{size:15.2,align:'center'});
T('MV4-11',989.5,26,{size:15.2,align:'center'});T('MOLM-14',1089,26,{size:15.2,align:'center'});
// E header and legend
T('MV4-11',112,310,{size:11.5,align:'center'});T('MOLM-14',320,310,{size:11.5,align:'center'});
[[12.7,213.3],[220,421.7]].forEach(d=>gfx.push({type:'line',silent:true,shape:{x1:d[0],y1:315.7,x2:d[1],y2:315.7},style:{stroke:'#777',lineWidth:.9}}));
[['DMSO',15,22.7],['Qui',79,86.7],['Cre',125,132.7],['Gil',173,180.7]].forEach(d=>{
 gfx.push({type:'circle',silent:true,shape:{cx:d[1],cy:750,r:4.7},style:{fill:COL[d[0]]}});
 T(d[0],d[2],750,{size:11.5});});
T('Z score',380.7,752.7,{size:12.8});
T('\u22124',286,764,{size:11.5,align:'center'});T('0',325.5,764,{size:11.5,align:'center'});T('4',360,764,{size:11.5,align:'center'});
[285,304,323,341.5,360].forEach(x=>gfx.push({type:'line',z:100,silent:true,shape:{x1:x,y1:746.7,x2:x,y2:749},style:{stroke:'#fff',lineWidth:.6}}));
// F annotation and legends
T('\u2191 in both',430,482.7,{size:11.5});T('cell lines',430,496,{size:11.5});
gfx.push({type:'line',silent:true,shape:{x1:438,y1:506,x2:466,y2:506},style:{stroke:'#000',lineWidth:1.8}});
gfx.push({type:'polygon',silent:true,shape:{points:[[465,503],[471,506],[465,509]]},style:{fill:'#000'}});
[[-98,22],[22,142],[142,262]].forEach(a=>gfx.push({type:'sector',silent:true,shape:{cx:571.7,cy:733.3,r:21.7,r0:15,startAngle:a[0]*RAD,endAngle:a[1]*RAD,clockwise:true},style:{fill:'#aaaaaa',stroke:'#333',lineWidth:.9}}));
T('Qui',594,717.7,{size:11,align:'center',rot:-.85});T('Gil',546.7,726.7,{size:11,align:'center',rot:1.0});T('Cre',579,760,{size:11,align:'center',rot:.35});
gfx.push({type:'rect',silent:true,shape:{x:640,y:721.7,width:7.3,height:11.6},style:{fill:'#b0b0b0',stroke:'#999',lineWidth:.5}});
gfx.push({type:'rect',silent:true,shape:{x:651,y:721.7,width:91.7,height:10.6},style:{stroke:'#777',lineWidth:.5,
 fill:new echarts.graphic.LinearGradient(0,0,1,0,ringStops.map((c,i)=>({offset:i/(ringStops.length-1),color:c})))}});
[[652.7,'0'],[698,'0.5'],[741.7,'1']].forEach(d=>T(d[1],d[0],716,{size:11,align:'center'}));
[['Protein translation',741],['relative to DMSO',752.7],['(log2)',764]].forEach(d=>T(d[0],696.7,d[1],{size:11.5,align:'center'}));
[[797,722,.4,.2],[806,720,.9,.4],[815,713,1.8,.75]].forEach(d=>gfx.push({type:'bezierCurve',silent:true,shape:{x1:d[0],y1:d[1],x2:d[0]+2,y2:746,cpx1:d[0]+7,cpy1:727},style:{stroke:'#5b6684',lineWidth:d[2],opacity:d[3],fill:'none'}}));
gfx.push({type:'polygon',silent:true,shape:{points:[[793.3,755.7],[818.3,748.3],[818.3,755.7]]},style:{fill:'#fff',stroke:'#333',lineWidth:.8}});
T('0.6',781.7,752.7,{size:11.5,align:'center'});T('1',825.7,752.7,{size:11.5,align:'center'});T('correlation',800,763.3,{size:11.5,align:'center'});
// G legend text
T('P (adj.)',1142.7,560.7,{size:15,align:'center'});T('0.05',1107.7,593.3,{size:15,align:'center'});T('0.005',1171.7,593.3,{size:15,align:'center'});

echarts.init(document.getElementById('c'),null,{renderer:'canvas'}).setOption({
 animation:false,backgroundColor:'#fff',textStyle:{fontFamily:FONT},tooltip:{show:false},
 grid:grids,xAxis:xAxes,yAxis:yAxes,series,graphic:{elements:gfx},
 visualMap:[
  {type:'continuous',seriesIndex:heatIndex,dimension:2,min:-5,max:5,orient:'horizontal',left:276,top:746.7,itemWidth:11,itemHeight:93,padding:0,calculable:false,realtime:false,
   inRange:{color:heatPalette},text:null,hoverLink:false},
  {type:'continuous',seriesIndex:pathIndex,dimension:2,min:1.3,max:2.3,orient:'horizontal',left:1109,top:570,itemWidth:12.7,itemHeight:64,padding:0,calculable:false,realtime:false,
   inRange:{color:pathwayPalette},text:null,hoverLink:false}
 ]
});
</script></body></html>
